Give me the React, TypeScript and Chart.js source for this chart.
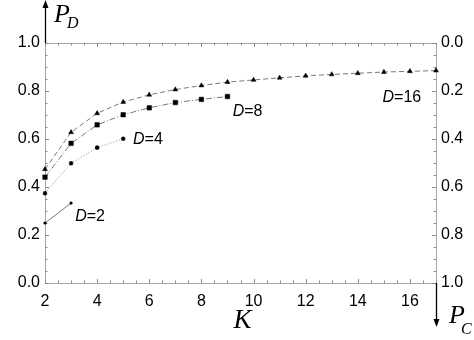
import React, { useEffect, useRef } from 'react';
import { Chart, registerables } from 'chart.js';

Chart.register(...registerables);

// ---- data ----
const kD16 = [2, 3, 4, 5, 6, 7, 8, 9, 10, 11, 12, 13, 14, 15, 16, 17];
const pD16 = [0.474, 0.628, 0.707, 0.754, 0.784, 0.806, 0.823, 0.837, 0.846, 0.855, 0.863, 0.869, 0.874, 0.879, 0.882, 0.885];
const kD8 = [2, 3, 4, 5, 6, 7, 8, 9];
const pD8 = [0.441, 0.582, 0.659, 0.701, 0.73, 0.752, 0.765, 0.777];
const kD4 = [2, 3, 4, 5];
const pD4 = [0.374, 0.499, 0.564, 0.601];
const kD2 = [2, 3];
const pD2 = [0.25, 0.333];

const seriesValues = ['16', '8', '4', '2'];
const labelK = [15.69, 9.77, 5.95, 3.73];
const labelP = [0.771, 0.713, 0.596, 0.277];

const xTickLabels = [2, 4, 6, 8, 10, 12, 14, 16];
const yTickLabels = [0, 0.2, 0.4, 0.6, 0.8, 1.0];

const SANS = '"Liberation Sans", Arial, Helvetica, sans-serif';
const SERIF = '"Liberation Serif", "Times New Roman", serif';

const toXY = (ks: number[], ps: number[]) => ks.map((k, i) => ({ x: k, y: ps[i] }));

const decorPlugin = {
  id: 'decor',
  beforeDatasetsDraw(chart: any) {
    const { ctx, chartArea: a, scales } = chart;
    const xs = scales.x;
    const ys = scales.y;
    ctx.save();
    // frame
    ctx.strokeStyle = '#a8a8a8';
    ctx.lineWidth = 1;
    ctx.beginPath();
    ctx.rect(Math.round(a.left) + 0.5, Math.round(a.top) + 0.5, Math.round(a.right - a.left), Math.round(a.bottom - a.top));
    ctx.stroke();
    // inward ticks
    ctx.strokeStyle = '#8a8a8a';
    ctx.beginPath();
    for (let i = 0; i <= 30; i++) {
      const v = 2 + i * 0.5;
      const px = Math.round(xs.getPixelForValue(v)) + 0.5;
      const len = v % 2 === 0 ? 4 : 2.5;
      ctx.moveTo(px, a.bottom);
      ctx.lineTo(px, a.bottom - len);
      ctx.moveTo(px, a.top);
      ctx.lineTo(px, a.top + len);
    }
    for (let i = 0; i <= 20; i++) {
      const v = i * 0.05;
      const py = Math.round(ys.getPixelForValue(v)) + 0.5;
      const len = i % 4 === 0 ? 4 : 2.5;
      ctx.moveTo(a.left, py);
      ctx.lineTo(a.left + len, py);
      ctx.moveTo(a.right, py);
      ctx.lineTo(a.right - len, py);
    }
    ctx.stroke();
    ctx.restore();
  },
  afterDraw(chart: any) {
    const { ctx, chartArea: a, scales } = chart;
    const xs = scales.x;
    const ys = scales.y;
    ctx.save();
    // arrows
    ctx.strokeStyle = '#000';
    ctx.fillStyle = '#000';
    ctx.lineWidth = 1.3;
    const lx = Math.round(a.left) + 0.5;
    ctx.beginPath();
    ctx.moveTo(lx, a.top);
    ctx.lineTo(lx, 6);
    ctx.stroke();
    ctx.beginPath();
    ctx.moveTo(lx, 0);
    ctx.lineTo(lx - 3, 8);
    ctx.lineTo(lx + 3, 8);
    ctx.closePath();
    ctx.fill();
    const rx = Math.round(a.right) + 0.5;
    ctx.beginPath();
    ctx.moveTo(rx, a.bottom);
    ctx.lineTo(rx, 320);
    ctx.stroke();
    ctx.beginPath();
    ctx.moveTo(rx, 327);
    ctx.lineTo(rx - 3, 319);
    ctx.lineTo(rx + 3, 319);
    ctx.closePath();
    ctx.fill();

    // axis titles
    ctx.textBaseline = 'alphabetic';
    ctx.textAlign = 'left';
    ctx.font = `italic 26px ${SERIF}`;
    ctx.fillText('P', 54, 22);
    ctx.font = `italic 16px ${SERIF}`;
    ctx.fillText('D', 67, 28);
    ctx.font = `italic 26px ${SERIF}`;
    ctx.fillText('P', 449, 323);
    ctx.font = `italic 16px ${SERIF}`;
    ctx.fillText('C', 461, 334);
    ctx.font = `italic 27px ${SERIF}`;
    ctx.textAlign = 'center';
    ctx.fillText('K', (a.left + a.right) / 2 + 2, 328);

    // series labels
    ctx.textBaseline = 'middle';
    ctx.textAlign = 'left';
    seriesValues.forEach((s, i) => {
      const cx = xs.getPixelForValue(labelK[i]);
      const cy = ys.getPixelForValue(labelP[i]);
      ctx.font = `italic 16px ${SANS}`;
      const wD = ctx.measureText('D').width;
      ctx.font = `16px ${SANS}`;
      const rest = '=' + s;
      const wR = ctx.measureText(rest).width;
      const x0 = cx - (wD + wR) / 2;
      ctx.font = `italic 16px ${SANS}`;
      ctx.fillText('D', x0, cy);
      ctx.font = `16px ${SANS}`;
      ctx.fillText(rest, x0 + wD, cy);
    });
    ctx.restore();
  },
};

export default function App() {
  const ref = useRef<HTMLCanvasElement | null>(null);

  useEffect(() => {
    document.body.style.margin = '0';
    const canvas = ref.current;
    if (!canvas) return;
    const lineGray = '#7a7a7a';
    const chart = new Chart(canvas, {
      type: 'line',
      data: {
        datasets: [
          {
            label: 'D=16',
            data: toXY(kD16, pD16),
            borderColor: lineGray,
            borderWidth: 1,
            borderDash: [5, 3],
            pointStyle: 'triangle',
            pointRadius: 2.8,
            pointBackgroundColor: '#000',
            pointBorderColor: '#000',
            pointBorderWidth: 0.5,
            clip: false as any,
          },
          {
            label: 'D=8',
            data: toXY(kD8, pD8),
            borderColor: lineGray,
            borderWidth: 1,
            borderDash: [6, 2, 1, 2],
            pointStyle: 'rect',
            pointRadius: 3.2,
            pointBackgroundColor: '#000',
            pointBorderColor: '#000',
            pointBorderWidth: 0.5,
            clip: false as any,
          },
          {
            label: 'D=4',
            data: toXY(kD4, pD4),
            borderColor: '#8a8a8a',
            borderWidth: 1,
            borderDash: [1, 2],
            pointStyle: 'star',
            pointRadius: 2.3,
            pointBackgroundColor: '#000',
            pointBorderColor: '#000',
            pointBorderWidth: 1.2,
            clip: false as any,
          },
          {
            label: 'D=2',
            data: toXY(kD2, pD2),
            borderColor: lineGray,
            borderWidth: 1,
            pointStyle: 'circle',
            pointRadius: 1.6,
            pointBackgroundColor: '#000',
            pointBorderColor: '#000',
            pointBorderWidth: 0,
            clip: false as any,
          },
        ],
      },
      options: {
        animation: false,
        responsive: false,
        devicePixelRatio: 1,
        layout: { padding: { top: 43, left: 0, right: 0, bottom: 0 } },
        plugins: { legend: { display: false }, tooltip: { enabled: false }, title: { display: false } },
        elements: { line: { tension: 0 } },
        scales: {
          x: {
            type: 'linear',
            position: 'bottom',
            min: 2,
            max: 17,
            grid: { display: false, drawTicks: false },
            border: { display: false },
            afterFit: (s: any) => { s.height = 57; },
            afterBuildTicks: (s: any) => { s.ticks = xTickLabels.map((v) => ({ value: v })); },
            ticks: {
              autoSkip: false,
              maxRotation: 0,
              padding: 9,
              color: '#000',
              font: { family: SANS, size: 16 },
              callback: (v: any) => String(v),
            },
          },
          y: {
            type: 'linear',
            position: 'left',
            min: 0,
            max: 1,
            grid: { display: false, drawTicks: false },
            border: { display: false },
            afterFit: (s: any) => { s.width = 45; },
            afterBuildTicks: (s: any) => { s.ticks = yTickLabels.map((v) => ({ value: v })); },
            ticks: {
              padding: 5,
              color: '#000',
              font: { family: SANS, size: 16 },
              callback: (v: any) => Number(v).toFixed(1),
            },
          },
          y2: {
            type: 'linear',
            position: 'right',
            reverse: true,
            min: 0,
            max: 1,
            grid: { display: false, drawTicks: false },
            border: { display: false },
            afterFit: (s: any) => { s.width = 38; },
            afterBuildTicks: (s: any) => { s.ticks = yTickLabels.map((v) => ({ value: v })); },
            ticks: {
              padding: 5,
              color: '#000',
              font: { family: SANS, size: 16 },
              callback: (v: any) => Number(v).toFixed(1),
            },
          },
        },
      },
      plugins: [decorPlugin],
    } as any);
    return () => chart.destroy();
  }, []);

  return (
    <div style={{ width: 474, height: 340, position: 'relative', background: '#fff' }}>
      <canvas ref={ref} width={474} height={340} style={{ display: 'block', width: 474, height: 340 }} />
    </div>
  );
}
